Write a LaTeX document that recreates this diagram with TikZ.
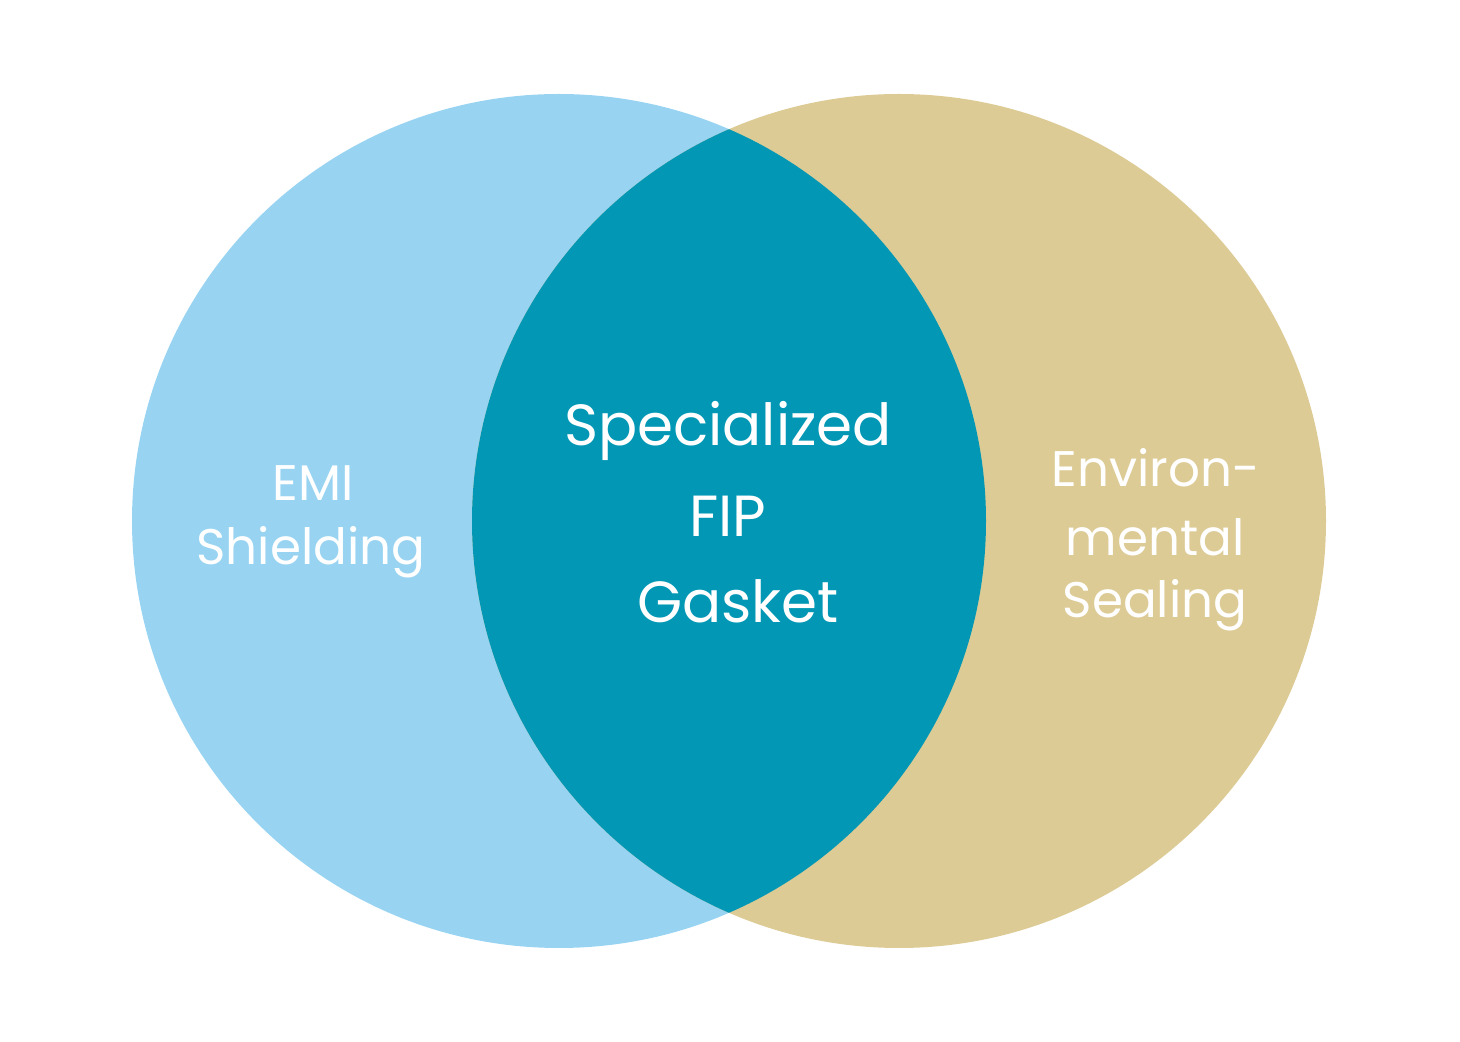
\documentclass[tikz,border=0pt]{standalone}
\usepackage{fontspec}
\setmainfont{Poppins}
\definecolor{lblue}{HTML}{98D4F2}
\definecolor{tan}{HTML}{DDCB96}
\definecolor{teal}{HTML}{0298B5}
\begin{document}
\begin{tikzpicture}[x=1pt,y=1pt,
  lbl/.style={text=white,font=\fontsize{50}{60}\selectfont,inner sep=0pt},
  big/.style={text=white,font=\fontsize{58}{70}\selectfont,inner sep=0pt}]
\useasboundingbox (0,0) rectangle (1460,1042);
\fill[lblue] (559,521) circle (427);
\fill[tan] (899,521) circle (427);
\begin{scope}
\clip (559,521) circle (427);
\fill[teal] (899,521) circle (427);
\end{scope}
\node[lbl] (emi) at (313,559) {EMI};
\node[lbl] (shield) at (311,490) {Shielding};
\node[big] (spec) at (728,611) {Specialized};
\node[big] (fip) at (728,526) {FIP};
\node[big] (gas) at (738,441) {Gasket};
\node[lbl] (env) at (1156,574) {Environ-};
\node[lbl] (ment) at (1155,505) {mental};
\node[lbl] (seal) at (1155,437) {Sealing};
\end{tikzpicture}
\end{document}
